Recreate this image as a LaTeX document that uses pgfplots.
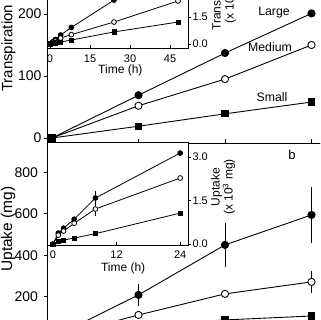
\documentclass[border=0pt]{standalone}
\usepackage{fontspec}
\setmainfont{Liberation Sans}
\usepackage{pgfplots}
\pgfplotsset{compat=1.18}
\newcommand{\fs}[1]{\fontsize{#1}{#1}\selectfont}
\pgfplotsset{
  base/.style={
    axis line style={line width=0.9pt, black},
    tick style={black, line width=0.9pt},
    major tick length=3.5pt,
    /pgf/number format/assume math mode=true,
    clip=false,
  },
  L/.style={black, line width=0.9pt, mark=*, mark size=3.6pt, mark options={solid, fill=black}},
  M/.style={black, line width=0.9pt, mark=*, mark size=3.6pt, mark options={solid, fill=white, line width=0.9pt}},
  S/.style={black, line width=0.9pt, mark=square*, mark size=3.1pt, mark options={solid, fill=black}},
  Li/.style={black, line width=0.8pt, mark=*, mark size=2.4pt, mark options={solid, fill=black}},
  Mi/.style={black, line width=0.8pt, mark=*, mark size=2.4pt, mark options={solid, fill=white, line width=0.8pt}},
  Si/.style={black, line width=0.8pt, mark=square*, mark size=2.1pt, mark options={solid, fill=black}},
  eb/.style={error bars/y dir=both, error bars/y explicit, error bars/error mark=none,
    error bars/error bar style={line width=0.9pt}},
}
\begin{document}
\begin{tikzpicture}
\path[use as bounding box, clip] (0pt,0pt) rectangle (320pt,320pt);

% ---------- top main panel ----------
\begin{axis}[base,
  at={(47pt,177pt)}, anchor=south west,
  x=86.5pt, y=0.62pt,
  xmin=-0.0578, xmax=3.25, ymin=-8.06, ymax=240,
  axis x line*=bottom, axis y line*=left,
  xtick={0,1,2,3}, xticklabels={},
  ytick={0,100,200},
  y tick style={xshift=-3.5pt},
  yticklabel style={font=\fs{14}, xshift=-2pt},
]
\addplot[L, eb] coordinates {(0,0) (1,69) (2,137) (3,201) +- (0,6)};
\addplot[M, eb] coordinates {(0,0) (1,52) (2,95) (3,150) +- (0,6)};
\addplot[S] coordinates {(0,0) (1,19) (2,39) (3,58)};
\end{axis}

% ---------- top inset ----------
\begin{axis}[base,
  at={(47pt,272pt)}, anchor=south west,
  x=2.667pt, y=18pt,
  xmin=-1.125, xmax=51.75, ymin=-0.222, ymax=6,
  axis background/.style={fill=white},
  xtick={0,15,30,45}, ytick={0,1.5,3,4.5,6},
  xtick pos=bottom, ytick pos=right, yticklabel pos=right,
  major tick length=3pt,
  y tick style={xshift=3pt},
  yticklabel style={font=\fs{11}, xshift=1pt, /pgf/number format/.cd, fixed, fixed zerofill, precision=1},
  xticklabel style={font=\fs{11}, yshift=-3pt},
  xlabel={Time (h)},
  xlabel style={font=\fs{12}, at={(axis description cs:0.52,0)}, anchor=center, yshift=-22pt},
]
\addplot[Li, eb] coordinates {(0,0) (1,0.12) (2,0.25) (4,0.5) (8,0.92) (24,2.44) +- (0,0.15) (48,4.8)};
\addplot[Mi, eb] coordinates {(0,0) (1,0.08) (2,0.16) (4,0.33) (8,0.52) (24,1.22) (48,2.39) +- (0,0.1)};
\addplot[Si] coordinates {(0,0) (1,0.03) (2,0.06) (4,0.11) (8,0.22) (24,0.67) (48,1.22)};
\end{axis}

% ---------- bottom main panel ----------
\begin{axis}[base,
  at={(47pt,177pt)}, anchor=north west,
  x=86.5pt, y=0.2067pt,
  xmin=-0.0578, xmax=3.25, ymin=-60, ymax=943,
  axis x line*=top, axis y line*=left,
  xtick=\empty,
  ytick={200,400,600,800},
  tick align=outside,
  yticklabel style={font=\fs{14}, xshift=-2pt},
]
\addplot[L, eb] coordinates {(0,0) (1,208) +- (0,53) (2,450) +- (0,107) (3,595) +- (0,135)};
\addplot[M, eb] coordinates {(0,0) (1,111) +- (0,15) (2,213) +- (0,10) (3,271) +- (0,55)};
\addplot[S, eb] coordinates {(0,0) (1,62) (2,87) +- (0,8) (3,106) +- (0,8)};
\end{axis}

% ---------- bottom inset ----------
\begin{axis}[base,
  at={(47pt,75pt)}, anchor=south west,
  x=5.3pt, y=29pt,
  xmin=-1.13, xmax=25.47, ymin=-0.03, ymax=3.49,
  axis background/.style={fill=white},
  xtick={0,12,24}, ytick={0,1.5,3},
  xtick pos=bottom, ytick pos=right, yticklabel pos=right,
  major tick length=3pt,
  y tick style={xshift=3pt},
  yticklabel style={font=\fs{11}, xshift=1pt, /pgf/number format/.cd, fixed, fixed zerofill, precision=1},
  xticklabel style={font=\fs{11}, yshift=-2pt},
  xlabel={Time (h)},
  xlabel style={font=\fs{12}, at={(axis description cs:0.54,0)}, anchor=center, yshift=-23pt},
]
\addplot[Li, eb] coordinates {(0,0) (1,0.38) (2,0.55) (4,0.86) (8,1.59) +- (0,0.25) (24,3.14)};
\addplot[Mi, eb] coordinates {(0,0) (1,0.31) (2,0.45) (4,0.72) (8,1.21) +- (0,0.25) (24,2.28)};
\addplot[Si] coordinates {(0,0) (1,0.1) (2,0.14) (4,0.21) (8,0.36) (24,1.07)};
\end{axis}

% ---------- text ----------
\node[rotate=90, anchor=west, inner sep=0pt, font=\fs{15}] at (8.5pt,228pt) {Transpiration (mg)};
\node[rotate=90, anchor=west, inner sep=0pt, font=\fs{15.5}] at (8pt,48pt) {Uptake (mg)};
\node[rotate=90, align=center, inner sep=0pt, font=\fontsize{12}{13}\selectfont] at (224pt,324pt) {Transpiration\\(x 10\textsuperscript{3} mg)};
\node[rotate=90, align=center, inner sep=0pt, font=\fontsize{12}{13}\selectfont] at (223pt,133pt) {Uptake\\(x 10\textsuperscript{3} mg)};
\node[font=\fs{12.3}] at (274pt,307pt) {Large};
\node[font=\fs{12.3}] at (270pt,273pt) {Medium};
\node[font=\fs{12.3}] at (272pt,223pt) {Small};
\node[font=\fs{13}] at (292pt,165pt) {b};
\end{tikzpicture}
\end{document}
